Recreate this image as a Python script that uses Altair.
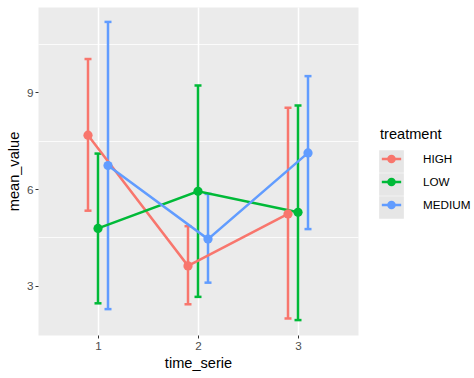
import altair as alt
import pandas as pd

time_serie = [1, 2, 3]
treatments = ["HIGH", "LOW", "MEDIUM"]
colors = ["#F8766D", "#00BA38", "#619CFF"]

high_mean = [7.67, 3.62, 5.23]
high_lo = [5.33, 2.43, 1.99]
high_hi = [10.03, 4.85, 8.52]

low_mean = [4.78, 5.93, 5.28]
low_lo = [2.46, 2.66, 1.94]
low_hi = [7.10, 9.21, 8.59]

med_mean = [6.73, 4.45, 7.12]
med_lo = [2.28, 3.10, 4.76]
med_hi = [11.18, 5.85, 9.50]

rows = []
for t, ms, los, his in zip(treatments,
                           [high_mean, low_mean, med_mean],
                           [high_lo, low_lo, med_lo],
                           [high_hi, low_hi, med_hi]):
    for ts, m, lo, hi in zip(time_serie, ms, los, his):
        rows.append({"time_serie": ts, "treatment": t, "mean_value": m, "lo": lo, "hi": hi})
df = pd.DataFrame(rows)

FONT = "Liberation Sans"

base = alt.Chart(df).transform_calculate(
    xd="datum.time_serie + (datum.treatment == 'HIGH' ? -0.1 : (datum.treatment == 'MEDIUM' ? 0.1 : 0))",
    tkey="datum.treatment + '_key'",
)

xscale = alt.Scale(domain=[0.4, 3.6], nice=False, zero=False)
yscale = alt.Scale(domain=[1.478, 11.642], nice=False, zero=False)
xaxis = alt.Axis(values=[1, 2, 3], format="d", title="time_serie")
yaxis = alt.Axis(values=[3, 6, 9], title="mean_value")

X = alt.X("xd:Q", scale=xscale, axis=xaxis)

# line + dot glyph, with zero-area anchors at the corners so the glyph box is the full key
key_path = ("M-1,-1 L-1,-1 Z M1,1 L1,1 Z "
            "M-0.86,-0.11 L0.86,-0.11 L0.86,0.11 L-0.86,0.11 Z "
            "M0,-0.38 A0.38,0.38 0 1,1 0,0.38 A0.38,0.38 0 1,1 0,-0.38 Z")
box_path = "M-1.1,-1 L1.1,-1 L1.1,1 L-1.1,1 Z"

color = alt.Color(
    "treatment:N",
    scale=alt.Scale(domain=treatments, range=colors),
    legend=alt.Legend(
        title="treatment", orient="none", legendX=342, legendY=120,
        symbolType=key_path, symbolSize=506, symbolStrokeWidth=0, symbolOpacity=1,
        titleFont=FONT, titleFontSize=14.6, titleFontWeight="normal", titleColor="black",
        titlePadding=6, labelFont=FONT, labelFontSize=11.7, labelColor="black",
        labelOffset=20, rowPadding=0, padding=0, zindex=1,
    ),
)

rules = base.mark_rule(strokeWidth=2.5).encode(
    x=X,
    y=alt.Y("lo:Q", scale=yscale, axis=yaxis),
    y2="hi:Q",
    color=color,
)
cap_hi = base.mark_tick(orient="horizontal", size=7, thickness=2.5, opacity=1).encode(
    x=X, y=alt.Y("hi:Q", scale=yscale, axis=yaxis), color=color,
)
cap_lo = base.mark_tick(orient="horizontal", size=7, thickness=2.5, opacity=1).encode(
    x=X, y=alt.Y("lo:Q", scale=yscale, axis=yaxis), color=color,
)
line = base.mark_line(strokeWidth=2.5).encode(
    x=X, y=alt.Y("mean_value:Q", scale=yscale, axis=yaxis), color=color,
    detail="treatment:N",
)
points = base.mark_circle(size=85, opacity=1).encode(
    x=X, y=alt.Y("mean_value:Q", scale=yscale, axis=yaxis), color=color,
)
keybg = base.mark_point(filled=True, clip=True, opacity=1, color="#E6E6E6").encode(
    x=alt.value(-500), y=alt.value(-500),
    shape=alt.Shape(
        "tkey:N",
        scale=alt.Scale(domain=[t + "_key" for t in treatments], range=[box_path] * 3),
        legend=alt.Legend(
            title=None, orient="none", legendX=342, legendY=143,
            symbolSize=506, symbolFillColor="#E6E6E6", symbolStrokeWidth=0, symbolOpacity=1,
            labelExpr="''", labelFontSize=1, labelOffset=0,
            rowPadding=0, padding=0, zindex=0,
        ),
    ),
)

main = alt.layer(keybg, rules, cap_hi, cap_lo, line, points)

minor = base.mark_point(opacity=0).encode(
    y=alt.Y("mean_value:Q", scale=yscale,
            axis=alt.Axis(values=[4.5, 7.5, 10.5], grid=True, gridWidth=0.8,
                          labels=False, ticks=False, domain=False, title=None, orient="right")),
)

chart = alt.layer(minor, main).resolve_axis(y="independent").properties(
    width=320, height=328,
    autosize=alt.AutoSizeParams(type="none"),
    padding={"left": 38, "top": 7, "right": 116, "bottom": 43},
).configure_view(fill="#EBEBEB", stroke="transparent").configure_axis(
    gridColor="white", gridWidth=1.5, domain=False,
    tickColor="#333333", tickSize=3, tickWidth=1,
    labelColor="#4D4D4D", labelFont=FONT, labelFontSize=11.7, labelPadding=2,
    titleFont=FONT, titleFontSize=14.6, titleFontWeight="normal", titleColor="black",
).configure_axisX(titlePadding=4).configure_axisY(titlePadding=5)

chart.save("out.html", embed_options={"renderer": "svg", "actions": False})
